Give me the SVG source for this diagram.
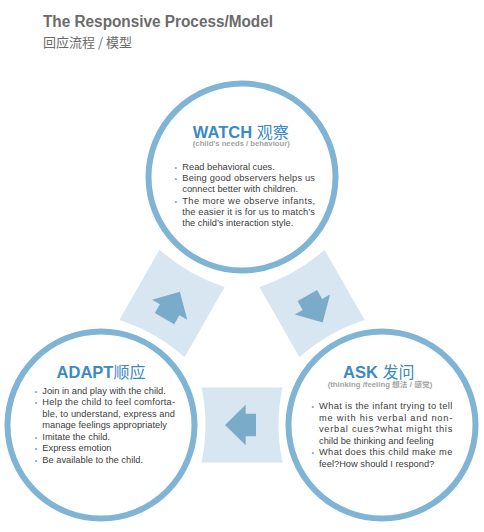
<svg xmlns="http://www.w3.org/2000/svg" xmlns:xlink="http://www.w3.org/1999/xlink" width="484" height="532" viewBox="0 0 484 532">
<style>
  text { font-family: "Liberation Sans", "Noto Sans CJK SC", sans-serif; }
  .title { font-size: 16px; font-weight: bold; fill: #6b6b6b; }
  .subtitle-cn { font-family: "Noto Sans CJK SC", sans-serif; font-size: 13px; fill: #6b6b6b; }
  .ring { fill: #ffffff; stroke: #80b4d5; stroke-width: 6; }
  .band { fill: #d7e6f0; }
  .arrow { fill: #7aacc9; }
  .head { font-size: 16.5px; font-weight: bold; fill: #3b8ac4; }
  .head .cn { font-family: "Noto Sans CJK SC", sans-serif; font-weight: normal; font-size: 16px; }
  .sub { font-size: 7px; font-weight: bold; fill: #a3a3a3; }
  .body { font-size: 9.3px; fill: #3c3c3c; }
  .bullet { font-size: 7px; fill: #6fa8d0; text-anchor: middle; }
</style>
<defs>
  <path id="bandShape" d="M-40.5,-37.5 L40.5,-37.5 A180,180 0 0 0 40.5,37.5 L-40.5,37.5 A180,180 0 0 0 -40.5,-37.5 Z"/>
  <polygon id="arrowShape" points="15.5,0 -5.2,-20.3 -5.2,-11.2 -15.5,-11.2 -15.5,11.2 -5.2,11.2 -5.2,20.3"/>
</defs>

<g id="title">
  <text class="title" x="43" y="26.7" textLength="230" lengthAdjust="spacingAndGlyphs">The Responsive Process/Model</text>
  <text class="subtitle-cn" x="43" y="46.5">回应流程 / 模型</text>
</g>

<g id="connectors">
  <use href="#bandShape" class="band" transform="translate(172,303.5) rotate(-60.3)"/>
  <use href="#bandShape" class="band" transform="translate(312,303.5) rotate(60.3)"/>
  <use href="#bandShape" class="band" transform="translate(242,425)"/>
  <use href="#arrowShape" class="arrow" transform="translate(172.2,305.2) rotate(-60.3)"/>
  <use href="#arrowShape" class="arrow" transform="translate(315,309) rotate(60.3)"/>
  <use href="#arrowShape" class="arrow" transform="translate(240.5,425) rotate(180)"/>
</g>

<g id="watch">
  <circle class="ring" cx="242" cy="177" r="93.5"/>
  <text class="head" x="240.8" y="137.7" text-anchor="middle">WATCH <tspan class="cn">观察</tspan></text>
  <text class="sub" x="241.3" y="146.3" text-anchor="middle" textLength="97" lengthAdjust="spacingAndGlyphs">(child’s needs / behaviour)</text>
  <text class="bullet" x="175.7" y="170">•</text>
  <text class="body" x="182.3" y="170">Read behavioral cues.</text>
  <text class="bullet" x="175.7" y="181.2">•</text>
  <text class="body" x="182.3" y="181.2" textLength="132.7" lengthAdjust="spacing">Being good observers helps us</text>
  <text class="body" x="182.3" y="192.4">connect better with children.</text>
  <text class="bullet" x="175.7" y="203.6">•</text>
  <text class="body" x="182.3" y="203.6" textLength="132.7" lengthAdjust="spacing">The more we observe infants,</text>
  <text class="body" x="182.3" y="214.8" textLength="132.7" lengthAdjust="spacing">the easier it is for us to match’s</text>
  <text class="body" x="182.3" y="226.2">the child’s interaction style.</text>
</g>

<g id="adapt">
  <circle class="ring" cx="101" cy="425" r="93.5"/>
  <text class="head" x="101" y="378.3" text-anchor="middle">ADAPT<tspan class="cn">顺应</tspan></text>
  <text class="bullet" x="36" y="393.5">•</text>
  <text class="body" x="42.3" y="393.5">Join in and play with the child.</text>
  <text class="bullet" x="36" y="405">•</text>
  <text class="body" x="42.3" y="405" textLength="132.7" lengthAdjust="spacing">Help the child to feel comforta-</text>
  <text class="body" x="42.3" y="416.6" textLength="132.7" lengthAdjust="spacing">ble, to understand, express and</text>
  <text class="body" x="42.3" y="428.1">manage feelings appropriately</text>
  <text class="bullet" x="36" y="439.7">•</text>
  <text class="body" x="42.3" y="439.7">Imitate the child.</text>
  <text class="bullet" x="36" y="451.2">•</text>
  <text class="body" x="42.3" y="451.2">Express emotion</text>
  <text class="bullet" x="36" y="462.8">•</text>
  <text class="body" x="42.3" y="462.8">Be available to the child.</text>
</g>

<g id="ask">
  <circle class="ring" cx="382" cy="425" r="93.5"/>
  <text class="head" x="378.8" y="377.7" text-anchor="middle">ASK <tspan class="cn">发问</tspan></text>
  <text class="sub" x="380" y="386.7" text-anchor="middle" textLength="104.6" lengthAdjust="spacingAndGlyphs">(thinking /feeling 想法 / 感觉)</text>
  <text class="bullet" x="312.7" y="409.4">•</text>
  <text class="body" x="319" y="409.4" textLength="133.3" lengthAdjust="spacing">What is the infant trying to tell</text>
  <text class="body" x="319" y="420.8" textLength="133.3" lengthAdjust="spacing">me with his verbal and non-</text>
  <text class="body" x="319" y="432.3" textLength="133.3" lengthAdjust="spacing">verbal cues?what might this</text>
  <text class="body" x="319" y="443.7">child be thinking and feeling</text>
  <text class="bullet" x="312.7" y="455.2">•</text>
  <text class="body" x="319" y="455.2" textLength="133.3" lengthAdjust="spacing">What does this child make me</text>
  <text class="body" x="319" y="466.7">feel?How should I respond?</text>
</g>
</svg>
